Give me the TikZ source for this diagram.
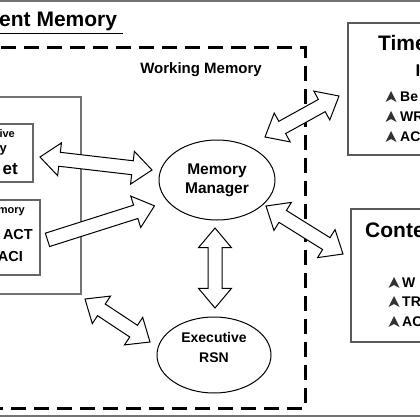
\documentclass[tikz,border=0pt]{standalone}
\usepackage{fontspec}
\setmainfont{Liberation Sans}
\usetikzlibrary{shapes,arrows,positioning,calc}

\tikzset{
  blockarrow/.style={draw, fill=white, line width=1pt, inner xsep=0pt, inner ysep=6.5pt, minimum width=32pt},
  memblob/.style={ellipse, draw, line width=1pt, inner sep=0pt, align=center, font=\fontsize{15.5}{19}\selectfont\bfseries},
  greybox/.style={draw=black!60, line width=1.2pt},
  item/.style={anchor=west, inner sep=0pt, font=\fontsize{14}{16}\selectfont\bfseries},
  frag/.style={anchor=east, inner sep=0pt, font=\bfseries},
  tipmark/.style={fill=black!80},
}

% hollow block arrows between two points
\newcommand{\bothways}[2]{%
  \path let \p1=(#1), \p2=(#2), \n1={atan2(\y2-\y1,\x2-\x1)}, \n2={veclen(\x2-\x1,\y2-\y1)} in
    ($(#1)!0.5!(#2)$) node[double arrow, blockarrow, double arrow head extend=9.5pt,
      double arrow tip angle=80, rotate=\n1, minimum height=\n2] {};}
\newcommand{\oneway}[2]{%
  \path let \p1=(#1), \p2=(#2), \n1={atan2(\y2-\y1,\x2-\x1)}, \n2={veclen(\x2-\x1,\y2-\y1)} in
    (#1) node[single arrow, blockarrow, single arrow head extend=9.5pt,
      single arrow tip angle=80, anchor=tail, rotate=\n1, minimum height=\n2] {};}

\begin{document}
\begin{tikzpicture}[x=1pt, y=-1pt]
  \useasboundingbox (0,0) rectangle (420,420);
  \clip (0,0) rectangle (420,420);

  % outer frame and working memory
  \draw[black!55, line width=2pt] (-10,1.5) rectangle (440,416);
  \node[anchor=base west, inner sep=0pt, font=\fontsize{21}{25}\selectfont\bfseries] (ltm) at (-1,27) {\underline{ent Memory\ }};
  \draw[line width=3pt, dash pattern=on 15pt off 8pt] (-20,48) rectangle (305,408);
  \node[font=\fontsize{15}{18}\selectfont\bfseries] (wm) at (201,70) {Working Memory};

  % left store
  \draw[black!55, line width=1.2pt] (-10,97) rectangle (81,294);
  \draw[greybox] (-10,124) rectangle (33,182);
  \draw[greybox] (-10,200) rectangle (40,275);
  \node[frag, font=\fontsize{11}{13}\selectfont\bfseries] (setA) at (15,134) {ive};
  \node[frag, font=\fontsize{13}{15}\selectfont\bfseries] (setB) at (7,150) {y};
  \node[frag, font=\fontsize{17}{19}\selectfont\bfseries] (setC) at (18,169) {et};
  \node[frag, font=\fontsize{11}{13}\selectfont\bfseries] (actA) at (25,212) {mory};
  \node[frag, font=\fontsize{14.5}{17}\selectfont\bfseries] (actB) at (33,235) {ACT};
  \node[frag, font=\fontsize{14.5}{17}\selectfont\bfseries] (actC) at (23,257) {ACI};

  % ellipses
  \node[memblob, minimum width=116pt, minimum height=80pt] (mm) at (217,180) {Memory\\Manager};
  \node[memblob, minimum width=114pt, minimum height=76pt,
    label={[yshift=8pt, align=center, font=\fontsize{14}{20}\selectfont\bfseries]center:Executive\\RSN}] (rsn) at (214,355) {};

  % right boxes
  \draw[black!65, line width=1.2pt] (348,23) rectangle (440,155);
  \node[anchor=west, inner sep=0pt, font=\fontsize{21}{25}\selectfont\bfseries] (time) at (378,43) {Time};
  \node[anchor=west, inner sep=0pt, font=\fontsize{17}{20}\selectfont\bfseries] (timeB) at (415.5,71) {I};
  \foreach \t/\y in {Be/97, WR/117, AC/137} {
    \fill[tipmark] (391,\y-6) -- (396.5,\y+5) -- (391,\y+2) -- (385.5,\y+5) -- cycle;
    \node[item] (time\t) at (400,\y) {\t};
  }
  \draw[black!65, line width=1.2pt] (351,209) rectangle (440,342);
  \node[anchor=west, inner sep=0pt, font=\fontsize{21}{25}\selectfont\bfseries] (ctx) at (365,230) {Conte};
  \foreach \t/\y in {W/283, TR/302, AC/322} {
    \fill[tipmark] (394,\y-6) -- (399.5,\y+5) -- (394,\y+2) -- (388.5,\y+5) -- cycle;
    \node[item] (ctx\t) at (402,\y) {\t};
  }

  % arrow ends
  \coordinate (setR) at (40,157);   \coordinate (mmA) at (152,170);
  \coordinate (actR) at (47,240);   \coordinate (mmB) at (154,206);
  \coordinate (mmC) at (265,137);   \coordinate (timeL) at (339,96);
  \coordinate (mmD) at (266,206);   \coordinate (ctxL) at (343,254);
  \coordinate (mmE) at (215,228);   \coordinate (rsnN) at (215,308);
  \coordinate (ltmS) at (85,299);   \coordinate (rsnW) at (150,342);

  \bothways{setR}{mmA}
  \oneway{actR}{mmB}
  \bothways{mmC}{timeL}
  \bothways{mmD}{ctxL}
  \bothways{mmE}{rsnN}
  \bothways{ltmS}{rsnW}
\end{tikzpicture}
\end{document}
